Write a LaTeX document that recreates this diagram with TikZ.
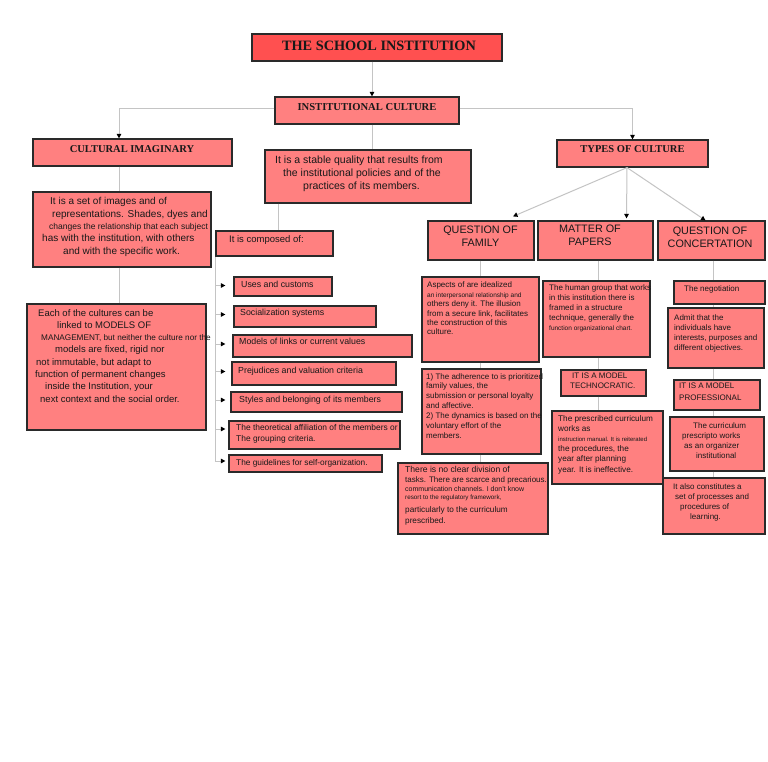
\documentclass[tikz,border=0pt]{standalone}
\usepackage{fontspec}
\setmainfont{Liberation Sans}
\newfontfamily\hdfont{Liberation Serif}
\usetikzlibrary{arrows.meta,fit}
\definecolor{boxfill}{HTML}{FF8080}
\definecolor{titlefill}{HTML}{FF5050}
\definecolor{connc}{HTML}{C4C4C4}
\definecolor{edgec}{HTML}{2A2A2A}
\newcommand\myfs[2]{\fontsize{#1}{#2}\selectfont}
\begin{document}
\begin{tikzpicture}[x=1pt,y=-1pt,
  box/.style={draw=edgec, line width=1.2pt, fill=boxfill, inner sep=0pt},
  tbox/.style={box, fill=titlefill},
  txt/.style={inner sep=0pt, align=left, anchor=north west, text=black!90},
  hd/.style={inner sep=0pt, anchor=center, text=black!90},
  hds/.style={inner sep=0pt, align=center, anchor=north, text=black!90, font=\myfs{10.8}{13}},
  link/.style={draw=connc, line width=1pt},
  arr/.style={link, -{Triangle[color=black, width=4.5pt, length=4.5pt]}}]
\fill[white] (0,0) rectangle (768,762);
\useasboundingbox (0,0) rectangle (768,762);

% boxes
\node[tbox, fit={(252,34)(502,61)}] (title) {};
\node[box, fit={(275,97)(459,124)}] (ic) {};
\node[box, fit={(33,139)(232,166)}] (ci) {};
\node[box, fit={(557,140)(708,167)}] (toc) {};
\node[box, fit={(265,150)(471,203)}] (sq) {};
\node[box, fit={(33,192)(211,267)}] (img) {};
\node[box, fit={(27,304)(206,430)}] (ec) {};
\node[box, fit={(216,231)(333,256)}] (cmp) {};
\node[box, fit={(234,277)(332,296)}] (u1) {};
\node[box, fit={(234,306)(376,327)}] (u2) {};
\node[box, fit={(233,335)(412,357)}] (u3) {};
\node[box, fit={(232,362)(396,385)}] (u4) {};
\node[box, fit={(231,392)(402,412)}] (u5) {};
\node[box, fit={(229,421)(400,449)}] (u6) {};
\node[box, fit={(229,455)(382,472)}] (u7) {};
\node[box, fit={(428,221)(534,260)}] (qf) {};
\node[box, fit={(538,221)(653,260)}] (mp) {};
\node[box, fit={(658,221)(765,260)}] (qc) {};
\node[box, fit={(422,277)(539,362)}] (asp) {};
\node[box, fit={(422,369)(541,454)}] (adh) {};
\node[box, fit={(398,463)(548,534)}] (ncl) {};
\node[box, fit={(543,281)(650,357)}] (hum) {};
\node[box, fit={(561,370)(646,396)}] (tec) {};
\node[box, fit={(552,411)(663,484)}] (prs) {};
\node[box, fit={(674,281)(765,304)}] (neg) {};
\node[box, fit={(668,308)(764,368)}] (adm) {};
\node[box, fit={(674,380)(760,410)}] (prf) {};
\node[box, fit={(670,417)(764,471)}] (cur) {};
\node[box, fit={(663,478)(765,534)}] (als) {};

% connectors
\draw[arr] ([xshift=-5pt]title.south) -- ([xshift=-5pt]title.south |- ic.north);
\draw[arr] ([yshift=1.5pt]ic.west) -| ([xshift=-13.5pt]ci.north);
\draw[arr] ([yshift=1.5pt]ic.east) -| (toc.north);
\draw[link] ([xshift=5pt]ic.south) -- ([xshift=5pt]ic.south |- sq.north);
\draw[link] ([xshift=-13.5pt]ci.south) -- ([xshift=-13.5pt]ci.south |- img.north);
\draw[link] ([xshift=-13.5pt]ci.south |- img.south) -- ([xshift=-13.5pt]ci.south |- ec.north);
\draw[link] ([xshift=3.5pt]cmp.north |- sq.south) -- ([xshift=3.5pt]cmp.north);
\draw[link] (cmp.south west) -- ([yshift=2.5pt]u7.west -| cmp.south west);
\draw[arr, shorten >=8pt] ([yshift=1pt]u1.west -| cmp.south west) -- ([yshift=1pt]u1.west);
\draw[arr, shorten >=8pt] ([yshift=2pt]u2.west -| cmp.south west) -- ([yshift=2pt]u2.west);
\draw[arr, shorten >=7pt] ([yshift=2pt]u3.west -| cmp.south west) -- ([yshift=2pt]u3.west);
\draw[arr, shorten >=6pt] ([yshift=2pt]u4.west -| cmp.south west) -- ([yshift=2pt]u4.west);
\draw[arr, shorten >=5pt] ([yshift=2pt]u5.west -| cmp.south west) -- ([yshift=2pt]u5.west);
\draw[arr, shorten >=3pt] ([yshift=6pt]u6.west -| cmp.south west) -- ([yshift=6pt]u6.west);
\draw[arr, shorten >=3pt] ([yshift=2.5pt]u7.west -| cmp.south west) -- ([yshift=2.5pt]u7.west);
\coordinate (tocb) at ([xshift=-5.5pt]toc.south);
\draw[arr] (tocb) -- ([xshift=32pt,yshift=4pt]qf.north);
\draw[arr] (tocb) -- ([xshift=31pt,yshift=2pt]mp.north);
\draw[arr] (tocb) -- ([xshift=-6pt]qc.north);
\draw[link] ([xshift=-1pt]qf.south) -- ([xshift=-1pt]qf.south |- asp.north);
\draw[link] ([xshift=-1pt]qf.south |- asp.south) -- ([xshift=-1pt]qf.south |- adh.north);
\draw[link] ([xshift=-1pt]qf.south |- adh.south) -- ([xshift=-1pt]qf.south |- ncl.north);
\draw[link] ([xshift=2.5pt]mp.south) -- ([xshift=2.5pt]mp.south |- hum.north);
\draw[link] ([xshift=2.5pt]mp.south |- hum.south) -- ([xshift=2.5pt]mp.south |- tec.north);
\draw[link] ([xshift=2.5pt]mp.south |- tec.south) -- ([xshift=2.5pt]mp.south |- prs.north);
\draw[link] ([xshift=1.5pt]qc.south) -- ([xshift=1.5pt]qc.south |- neg.north);
\draw[link] ([xshift=1.5pt]qc.south |- neg.south) -- ([xshift=1.5pt]qc.south |- adm.north);
\draw[link] ([xshift=1.5pt]qc.south |- adm.south) -- ([xshift=1.5pt]qc.south |- prf.north);
\draw[link] ([xshift=1.5pt]qc.south |- prf.south) -- ([xshift=1.5pt]qc.south |- cur.north);
\draw[link] ([xshift=1.5pt]qc.south |- cur.south) -- ([xshift=1.5pt]qc.south |- als.north);

% texts
\node[hd, font=\hdfont\bfseries\myfs{14.3}{16}] (titleT) at (379,45.5) {THE SCHOOL INSTITUTION};
\node[hd, font=\hdfont\bfseries\myfs{10.6}{12}] (icT) at (367,107) {INSTITUTIONAL CULTURE};
\node[hd, font=\hdfont\bfseries\myfs{10.5}{12}] (ciT) at (132,149) {CULTURAL IMAGINARY};
\node[hd, font=\hdfont\bfseries\myfs{10.5}{12}] (tocT) at (632.5,149.5) {TYPES OF CULTURE};

\node[txt, font=\myfs{10.5}{13}] (sqT) at (275,155.5) {It is a stable quality that results from\\\hspace*{8pt}the institutional policies and of the\\\hspace*{28pt}practices of its members.};

\node[txt, font=\myfs{10}{12.3}] (imgT) at (42,197.5) {\hspace*{8pt}It is a set of images and of\\\hspace*{10pt}representations. Shades, dyes and\\\hspace*{7pt}{\myfs{8.5}{12.3}changes the relationship that each subject}\\has with the institution, with others\\\hspace*{21pt}and with the specific work.};

\node[txt, font=\myfs{9.5}{12.3}] (ecT) at (35,309) {\hspace*{3pt}Each of the cultures can be\\\hspace*{22pt}linked to MODELS OF\\\hspace*{6pt}{\myfs{8.2}{12.3}MANAGEMENT, but neither the culture nor the}\\\hspace*{20pt}models are fixed, rigid nor\\\hspace*{1pt}not immutable, but adapt to\\function of permanent changes\\\hspace*{10pt}inside the Institution, your\\\hspace*{5pt}next context and the social order.};

\node[txt, font=\myfs{9.5}{12}] (cmpT) at (229,235.5) {It is composed of:};
\node[txt, font=\myfs{8.8}{11}] (u1T) at (241,281) {Uses and customs};
\node[txt, font=\myfs{8.8}{11}] (u2T) at (240,309) {Socialization systems};
\node[txt, font=\myfs{8.8}{11}] (u3T) at (239,338) {Models of links or current values};
\node[txt, font=\myfs{8.8}{11}] (u4T) at (238,367) {Prejudices and valuation criteria};
\node[txt, font=\myfs{8.8}{11}] (u5T) at (239,396) {Styles and belonging of its members};
\node[txt, font=\myfs{8.4}{11.5}] (u6T) at (236,424) {The theoretical affiliation of the members or\\The grouping criteria.};
\node[txt, font=\myfs{8.3}{11}] (u7T) at (236,459) {The guidelines for self-organization.};

\node[hds] (qfT) at (480.5,226) {QUESTION OF\\FAMILY};
\node[hds] (mpT) at (590,225) {MATTER OF\\PAPERS};
\node[hds] (qcT) at (710,227) {QUESTION OF\\CONCERTATION};

\node[txt, font=\myfs{8}{9.4}] (aspT) at (427,282) {Aspects of are idealized\\{\myfs{6.5}{9.4}an interpersonal relationship and}\\others deny it. The illusion\\from a secure link, facilitates\\the construction of this\\culture.};

\node[txt, font=\myfs{8}{9.9}] (adhT) at (426,373) {1) The adherence to is prioritized\\family values, the\\submission or personal loyalty\\and affective.\\2) The dynamics is based on the\\voluntary effort of the\\members.};

\node[txt, font=\myfs{8}{9.5}] (nclT) at (405,466) {{\myfs{8.6}{9.5}There is no clear division of}\\[0.5pt]tasks. There are scarce and precarious.\\[-0.5pt]{\myfs{7}{9.5}communication channels. I don't know}\\[-1pt]{\myfs{6.3}{9.5}resort to the regulatory framework,}\\[3pt]{\myfs{8.2}{9.5}particularly to the curriculum}\\[1.5pt]{\myfs{8.2}{9.5}prescribed.}};

\node[txt, font=\myfs{8}{10}] (humT) at (549,285) {The human group that works\\in this institution there is\\framed in a structure\\technique, generally the\\{\myfs{6.5}{10}function organizational chart.}};

\node[txt, font=\myfs{8}{10}] (tecT) at (570,373) {\hspace*{2pt}IT IS A MODEL\\TECHNOCRATIC.};

\node[txt, font=\myfs{8.2}{10.2}] (prsT) at (558,415) {The prescribed curriculum\\works as\\{\myfs{6}{10.2}instruction manual. It is reiterated}\\the procedures, the\\year after planning\\year. It is ineffective.};

\node[txt, font=\myfs{8}{10}] (negT) at (684,286) {The negotiation};
\node[txt, font=\myfs{8}{10}] (admT) at (674,315) {Admit that the\\individuals have\\interests, purposes and\\different objectives.};
\node[txt, font=\myfs{8}{11.5}] (prfT) at (679,383) {IT IS A MODEL\\PROFESSIONAL};
\node[txt, font=\myfs{8}{10}] (curT) at (682,422) {\hspace*{11pt}The curriculum\\prescripto works\\\hspace*{2pt}as an organizer\\\hspace*{14pt}institutional};
\node[txt, font=\myfs{8}{10.3}] (alsT) at (673,483) {It also constitutes a\\\hspace*{2pt}set of processes and\\\hspace*{7pt}procedures of\\\hspace*{17pt}learning.};
\end{tikzpicture}
\end{document}
